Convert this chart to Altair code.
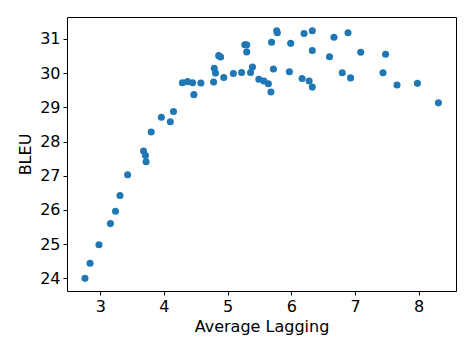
import altair as alt
import pandas as pd

average_lagging = [
    2.76, 2.84, 2.98, 3.16, 3.24, 3.31, 3.43, 3.68, 3.71, 3.72,
    3.80, 3.96, 4.10, 4.15, 4.29, 4.37, 4.45, 4.47, 4.58, 4.78,
    4.79, 4.81, 4.86, 4.89, 4.94, 5.09, 5.22, 5.27, 5.30, 5.30,
    5.36, 5.39, 5.49, 5.57, 5.64, 5.68, 5.69, 5.72, 5.77, 5.78,
    5.97, 5.99, 6.17, 6.20, 6.28, 6.33, 6.33, 6.33, 6.60, 6.67,
    6.80, 6.89, 6.93, 7.09, 7.44, 7.48, 7.66, 7.98, 8.31,
]
bleu = [
    24.00, 24.44, 24.98, 25.60, 25.96, 26.42, 27.03, 27.72, 27.59, 27.41,
    28.28, 28.71, 28.58, 28.88, 29.72, 29.75, 29.72, 29.37, 29.71, 29.74,
    30.14, 30.00, 30.51, 30.47, 29.87, 29.99, 30.02, 30.83, 30.83, 30.62,
    30.02, 30.18, 29.82, 29.77, 29.69, 29.45, 30.90, 30.12, 31.24, 31.18,
    30.04, 30.87, 29.84, 31.16, 29.77, 30.66, 31.24, 29.59, 30.48, 31.05,
    30.01, 31.18, 29.86, 30.61, 30.01, 30.55, 29.65, 29.70, 29.13,
]
x_ticks = [3, 4, 5, 6, 7, 8]
y_ticks = [24, 25, 26, 27, 28, 29, 30, 31]

df = pd.DataFrame({"al": average_lagging, "bleu": bleu})

font = "DejaVu Sans"

chart = (
    alt.Chart(df)
    .mark_circle(size=50, color="#1f77b4", opacity=1)
    .encode(
        x=alt.X(
            "al:Q",
            title="Average Lagging",
            scale=alt.Scale(domain=[2.478, 8.586], nice=False, zero=False),
            axis=alt.Axis(values=x_ticks, format="d"),
        ),
        y=alt.Y(
            "bleu:Q",
            title="BLEU",
            scale=alt.Scale(domain=[23.63, 31.64], nice=False, zero=False),
            axis=alt.Axis(values=y_ticks, format="d"),
        ),
    )
    .properties(
        width=389,
        height=274,
        autosize=alt.AutoSizeParams(type="none"),
        padding={"left": 59, "top": 9, "right": 10, "bottom": 60},
    )
    .configure_view(stroke="#000000", strokeWidth=1)
    .configure_axis(
        grid=False,
        domain=False,
        ticks=True,
        tickColor="#000000",
        tickSize=4,
        labelFont=font,
        labelFontSize=16,
        labelColor="#000000",
        labelPadding=3,
        titleFont=font,
        titleFontSize=16,
        titleFontWeight="normal",
        titleColor="#000000",
    )
    .configure_axisY(titlePadding=6)
    .configure_axisX(titlePadding=4)
)

chart.save("out.html", embed_options={"renderer": "svg", "actions": False})
